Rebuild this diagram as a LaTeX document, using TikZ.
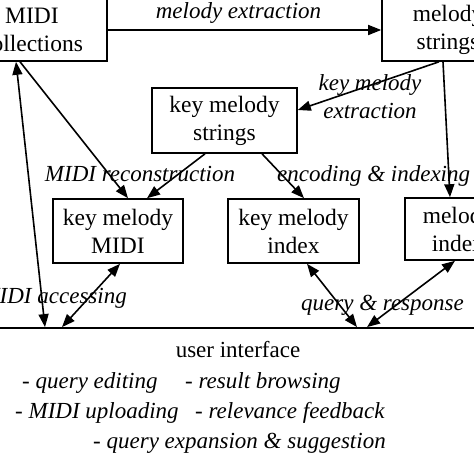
\documentclass[tikz,border=0pt]{standalone}
\usepackage{fontspec}
\setmainfont{Liberation Serif}
\usetikzlibrary{arrows.meta,calc}
\begin{document}
\begin{tikzpicture}[x=1pt,y=-1pt,
  box/.style={draw,line width=1.6pt,align=center,inner sep=0pt,font=\fontsize{23.5}{28}\selectfont},
  lbl/.style={font=\fontsize{23}{27}\selectfont\itshape,inner sep=0pt},
  txt/.style={font=\fontsize{23}{27}\selectfont,inner sep=0pt},
  conn/.style={line width=1.6pt,-{Triangle[length=13pt,width=10pt]}},
  bconn/.style={line width=1.6pt,{Triangle[length=13pt,width=10pt]}-{Triangle[length=13pt,width=10pt]}}]
\useasboundingbox (0,0) rectangle (474,474);
\clip (0,0) rectangle (474,474);
\node[box,minimum width=150pt,minimum height=62pt] (mc) at (32,30) {MIDI\\collections};
\node[box,minimum width=132pt,minimum height=62pt] (ms) at (448,30) {melody\\strings};
\node[box,minimum width=145pt,minimum height=65pt] (kms) at (224.5,120.5) {key melody\\strings};
\node[box,minimum width=130pt,minimum height=64pt] (kmm) at (118,231) {key melody\\MIDI};
\node[box,minimum width=131pt,minimum height=64pt] (kmi) at (293.5,231) {key melody\\index};
\node[box,minimum width=106pt,minimum height=62pt] (mi) at (458,229) {melody\\index};
\node[draw,line width=1.8pt,minimum width=500pt,minimum height=184pt,inner sep=0pt] (ui) at (237,420) {};
% connectors
\draw[conn] (mc.east) -- (ms.west);
\draw[conn] ([xshift=-9pt]ms.south) -- ([yshift=10.5pt]kms.east);
\draw[conn] ([xshift=-5pt]ms.south) -- ([xshift=-8pt]mi.north);
\draw[conn] ([xshift=-12pt]mc.south) -- ([xshift=10pt]kmm.north);
\draw[conn] ([xshift=-19.5pt]kms.south) -- ([xshift=29pt]kmm.north);
\draw[conn] ([xshift=37.5pt]kms.south) -- ([xshift=10.5pt]kmi.north);
\draw[bconn] ([xshift=-16pt]mc.south) -- ([xshift=-192pt]ui.north);
\draw[bconn] ([xshift=2pt]kmm.south) -- ([xshift=-175pt]ui.north);
\draw[bconn] ([xshift=13.5pt]kmi.south) -- ([xshift=120pt]ui.north);
\draw[bconn] ([xshift=-3pt]mi.south) -- ([xshift=130pt]ui.north);
% labels
\node[lbl,anchor=base] (l1) at (238.5,18) {melody extraction};
\node[lbl,anchor=base] (l2) at (370,90) {key melody};
\node[lbl,anchor=base] (l3) at (370,118) {extraction};
\node[lbl,anchor=base] (l4) at (140,181) {MIDI reconstruction};
\node[lbl,anchor=base west] (l5) at (277,181) {encoding \& indexing};
\node[lbl,anchor=base east] (l6) at (127,303) {MIDI accessing};
\node[lbl,anchor=base] (l7) at (382.5,310) {query \& response};
% user interface text
\node[txt,anchor=base] (u0) at (238,357) {user interface};
\node[lbl,anchor=base west] (u1) at (22,388) {- query editing};
\node[lbl,anchor=base west] (u2) at (185,388) {- result browsing};
\node[lbl,anchor=base west] (u3) at (15,418) {- MIDI uploading};
\node[lbl,anchor=base west] (u4) at (195,418) {- relevance feedback};
\node[lbl,anchor=base west] (u5) at (93,448) {- query expansion \& suggestion};
\end{tikzpicture}
\end{document}
